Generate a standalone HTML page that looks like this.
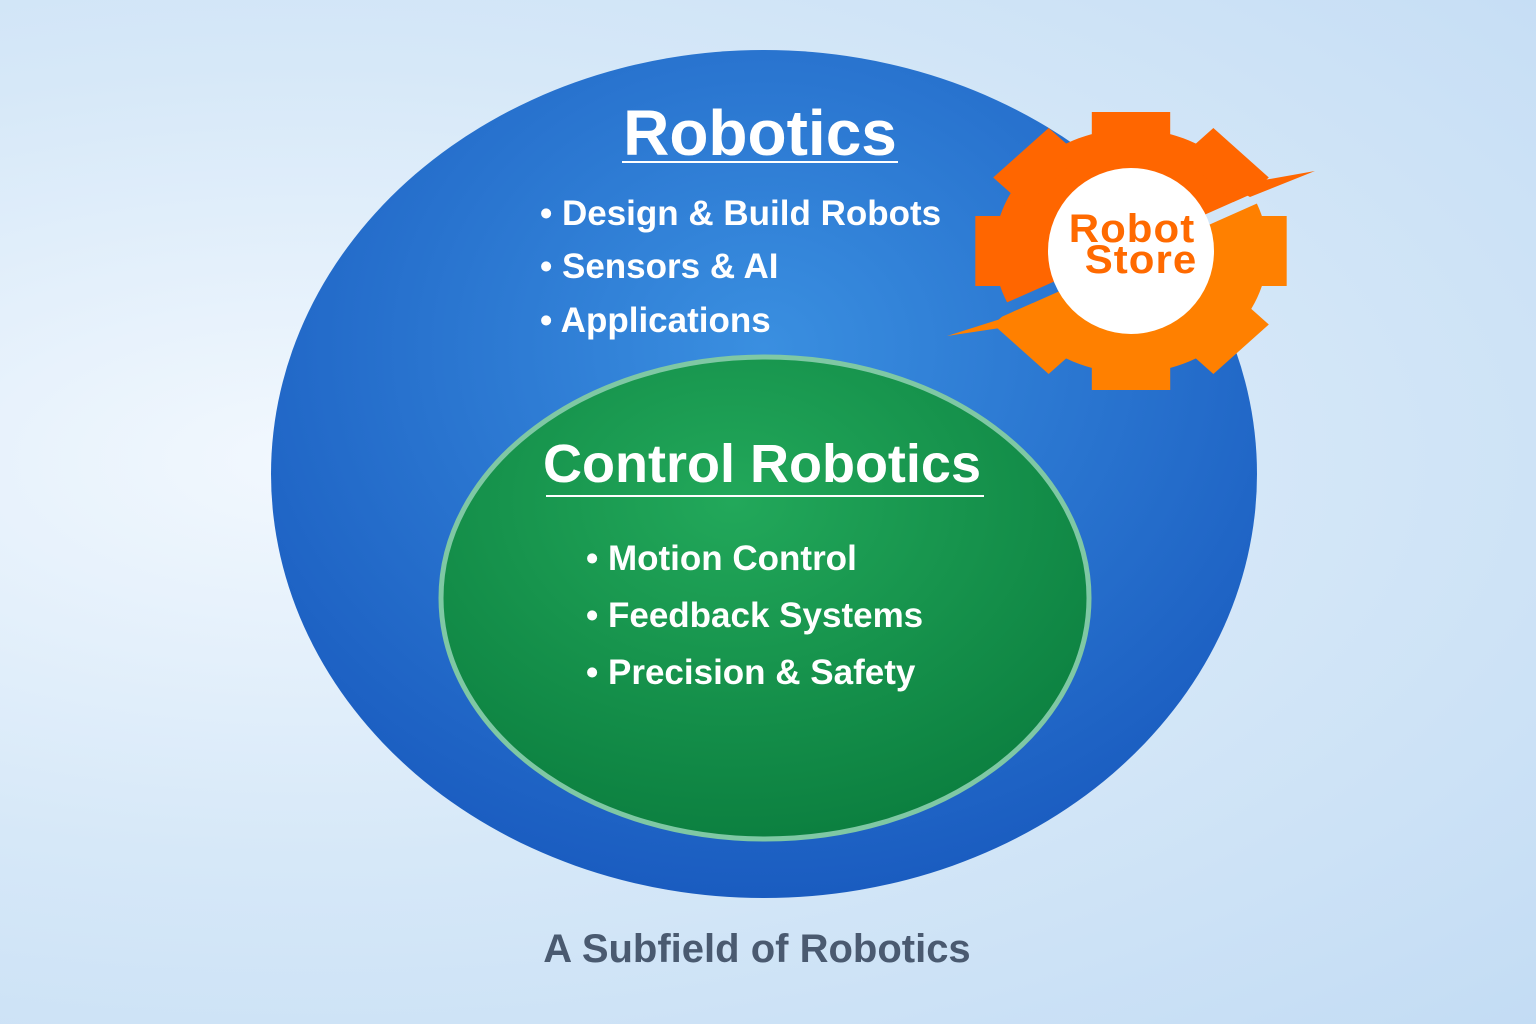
<!DOCTYPE html>
<html><head><style>
html,body{margin:0;padding:0}
body{width:1536px;height:1024px;overflow:hidden;background:radial-gradient(ellipse at 20% 45%,#f2f8fe 0%,#d6e8f8 50%,#c3dcf4 100%);font-family:"Liberation Sans",sans-serif;}
</style></head><body>
<svg width="1536" height="1024" viewBox="0 0 1536 1024" style="position:absolute;left:0;top:0">
<defs>
<radialGradient id="bl" cx="0.5" cy="0.35" r="0.65">
<stop offset="0" stop-color="#3a8fe0"/><stop offset="1" stop-color="#1a5cc0"/></radialGradient>
<radialGradient id="gr" cx="0.45" cy="0.3" r="0.7">
<stop offset="0" stop-color="#22a85a"/><stop offset="1" stop-color="#0c8040"/></radialGradient>
<clipPath id="top"><polygon points="900,0 1400,0 1400,128 900,350"/></clipPath>
<clipPath id="bot"><polygon points="900,362 1400,140 1400,450 900,450"/></clipPath>
<g id="gear">
<g transform="translate(1131 251) scale(1.12 1) translate(-1131 -251)">
<circle cx="1131" cy="251" r="122"/>
<g id="t"><rect x="1096" y="112" width="70" height="40"/></g>
<use href="#t" transform="rotate(45 1131 251)"/>
<use href="#t" transform="rotate(90 1131 251)"/>
<use href="#t" transform="rotate(135 1131 251)"/>
<use href="#t" transform="rotate(180 1131 251)"/>
<use href="#t" transform="rotate(225 1131 251)"/>
<use href="#t" transform="rotate(270 1131 251)"/>
<use href="#t" transform="rotate(315 1131 251)"/>
</g>
</g>
</defs>
<ellipse cx="764" cy="474" rx="493" ry="424" fill="url(#bl)"/>
<ellipse cx="765" cy="598" rx="324" ry="241" fill="url(#gr)" stroke="#7fc8a4" stroke-width="5"/>
<g clip-path="url(#top)" fill="#ff6600"><use href="#gear"/></g>
<g clip-path="url(#bot)" fill="#ff8000"><use href="#gear"/></g>
<polygon points="1230,186 1315,171 1250,197" fill="#ff6600"/>
<polygon points="947,336 1010,316 1000,328" fill="#ff8000"/>
<circle cx="1131" cy="251" r="83" fill="#fff"/>
<text x="1132" y="242" text-anchor="middle" font-size="40" font-weight="bold" fill="#ff6a00" letter-spacing="1" transform="translate(1132 0) scale(1.05 1) translate(-1132 0)">Robot</text>
<text x="1141" y="273" text-anchor="middle" font-size="40" font-weight="bold" fill="#ff6a00" letter-spacing="1" transform="translate(1141 0) scale(1.05 1) translate(-1141 0)">Store</text>
<g fill="#fff" font-weight="bold">
<text x="760" y="155" text-anchor="middle" font-size="64">Robotics</text>
<rect x="622" y="161" width="276" height="2"/>
<text x="540" y="225" font-size="35">• Design &amp; Build Robots</text>
<text x="540" y="278" font-size="35">• Sensors &amp; AI</text>
<text x="540" y="332" font-size="35">• Applications</text>
<text x="762" y="482" text-anchor="middle" font-size="54">Control Robotics</text>
<rect x="546" y="495" width="438" height="2"/>
<text x="586" y="570" font-size="35">• Motion Control</text>
<text x="586" y="627" font-size="35">• Feedback Systems</text>
<text x="586" y="684" font-size="35">• Precision &amp; Safety</text>
</g>
<text x="757" y="962" text-anchor="middle" font-size="40" font-weight="bold" fill="#4a5a70">A Subfield of Robotics</text>
</svg>
</body></html>
